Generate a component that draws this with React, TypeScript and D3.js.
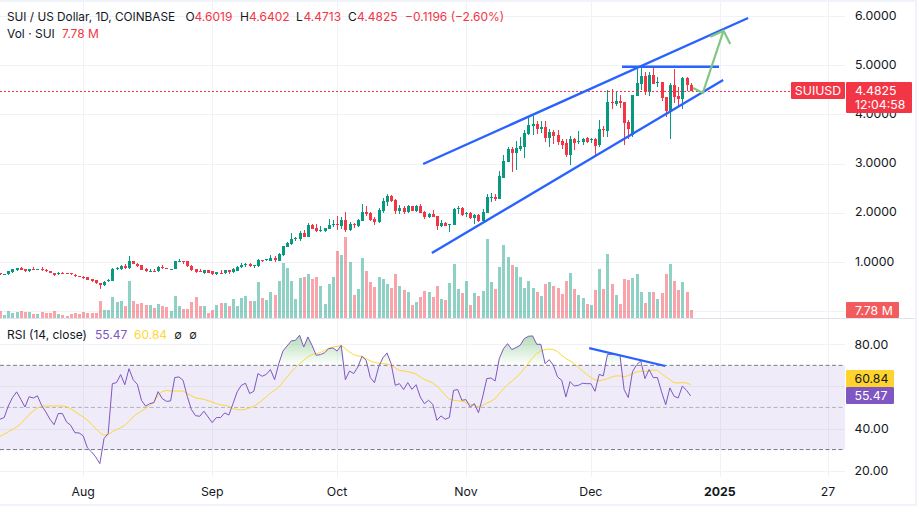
import React from 'react';
import * as d3 from 'd3';

const opens = [.769,.749,.749,.790,.830,.871,.851,.810,.864,.851,.864,.844,.817,.776,.749,.783,.776,.769,.742,.715,.701,.695,.647,.627,.579,.525,.607,.607,.857,.851,.925,.871,1.020,.966,.939,.851,.810,.817,.810,.898,.884,.851,.851,1.020,1.020,1.014,.925,.851,.817,.783,.837,.810,.749,.776,.769,.830,.790,.823,.891,.952,.966,.925,.911,1.047,1.040,1.027,1.088,1.027,
1.142,1.312,1.366,1.475,1.468,1.590,1.508,1.752,1.691,1.630,1.624,1.671,1.766,1.773,1.732,1.854,1.651,1.780,1.732,1.840,2.017,1.996,1.874,1.813,2.037,2.227,2.342,2.260,2.037,2.098,2.017,2.139,2.037,2.139,2.017,1.915,1.969,1.935,1.732,1.793,1.766,1.752,2.078,2.098,1.989,1.996,1.895,1.956,1.834,1.996,2.315,2.315,2.281,2.714,3.033,3.297,3.216,3.297,3.338,
3.601,3.764,3.805,3.703,3.744,3.520,3.642,3.581,3.459,3.419,3.175,3.500,3.446,3.446,3.520,3.480,3.500,3.378,3.703,3.662,4.252,4.211,4.272,4.252,3.845,3.581,4.374,4.618,4.780,4.455,4.801,4.645,4.658,4.354,4.062,4.597,4.381,4.313,4.740,4.6019];
const highs = [.783,.756,.823,.857,.884,.898,.864,.864,.898,.857,.898,.857,.817,.776,.796,.796,.776,.776,.756,.715,.722,.695,.661,.640,.579,.620,.661,.871,.891,.945,.952,1.129,1.020,.979,.939,.878,.864,.857,.918,.945,.884,.864,1.027,1.068,1.020,1.027,.939,.864,.857,.844,.837,.817,.803,.844,.844,.844,.878,.925,.973,.986,.979,.939,1.061,1.047,1.068,1.142,1.129,1.183,
1.332,1.407,1.590,1.508,1.630,1.644,1.786,1.773,1.773,1.732,1.691,1.868,1.854,1.935,1.908,2.017,1.813,1.793,1.874,2.179,2.139,2.017,1.915,2.098,2.294,2.382,2.362,2.274,2.159,2.139,2.152,2.139,2.159,2.179,2.037,1.996,2.057,1.935,1.854,1.813,1.780,2.098,2.139,2.118,2.010,2.017,1.976,1.976,2.071,2.376,2.396,2.382,2.857,3.175,3.338,3.338,3.460,3.534,3.683,
3.927,3.967,3.872,3.866,3.866,3.703,3.683,3.683,3.500,3.500,3.561,3.520,3.662,3.520,3.540,3.520,3.520,3.886,3.764,4.496,4.516,4.475,4.394,4.252,3.886,4.394,4.923,4.943,4.862,4.862,4.984,4.753,4.658,4.354,4.631,4.923,4.563,4.753,4.760,4.6402];
const lows = [.735,.742,.735,.783,.823,.830,.790,.803,.844,.837,.817,.803,.769,.722,.742,.762,.749,.735,.701,.708,.661,.627,.600,.559,.457,.518,.600,.607,.830,.844,.864,.864,.952,.898,.830,.803,.803,.803,.803,.857,.851,.851,.851,.993,.966,.905,.823,.769,.796,.762,.783,.742,.735,.756,.756,.756,.783,.817,.884,.905,.898,.871,.898,.993,1.014,1.020,1.007,1.020,
1.129,1.305,1.353,1.434,1.427,1.508,1.502,1.664,1.610,1.610,1.610,1.664,1.705,1.657,1.664,1.610,1.637,1.698,1.718,1.834,1.935,1.840,1.752,1.800,2.003,2.139,2.227,1.976,1.976,1.976,2.003,2.037,2.023,1.989,1.874,1.888,1.915,1.651,1.705,1.732,1.617,1.746,1.976,1.935,1.908,1.874,1.773,1.813,1.813,1.989,2.227,2.240,2.274,2.701,3.033,2.830,2.870,3.256,3.114,
3.581,3.581,3.601,3.615,3.446,3.344,3.398,3.378,3.297,3.127,2.971,3.276,3.398,3.378,3.419,3.412,3.175,3.344,3.540,3.547,4.103,4.171,4.130,3.378,3.493,3.547,4.374,4.496,4.394,4.374,4.618,4.563,4.272,3.954,3.500,4.225,4.171,4.110,4.475,4.4713];
const closes = [.749,.756,.810,.851,.871,.837,.810,.864,.851,.857,.844,.830,.769,.742,.783,.769,.749,.749,.708,.708,.681,.627,.607,.566,.525,.600,.627,.864,.871,.925,.871,1.020,.952,.925,.830,.810,.823,.810,.905,.871,.851,.864,1.027,1.027,1.007,.911,.830,.803,.803,.844,.783,.749,.790,.762,.830,.796,.857,.905,.945,.966,.911,.939,1.047,1.040,1.054,1.081,1.047,1.169,
1.325,1.393,1.468,1.495,1.597,1.515,1.752,1.671,1.624,1.651,1.691,1.752,1.773,1.759,1.854,1.651,1.773,1.766,1.854,2.017,1.976,1.854,1.813,2.057,2.240,2.342,2.240,2.037,2.098,2.017,2.139,2.044,2.139,1.996,1.915,1.976,1.922,1.739,1.793,1.739,1.780,2.078,2.091,1.949,1.996,1.895,1.956,1.834,2.017,2.321,2.328,2.274,2.748,3.053,3.297,3.216,3.317,3.358,3.622,
3.784,3.805,3.703,3.744,3.527,3.642,3.561,3.439,3.371,3.175,3.500,3.419,3.459,3.500,3.439,3.500,3.358,3.703,3.696,4.252,4.238,4.272,4.232,3.825,3.703,4.394,4.638,4.780,4.455,4.801,4.618,4.658,4.333,4.062,4.597,4.354,4.313,4.740,4.597,4.4825];
const volumes = [6.7,2.7,6.7,4.7,5.7,6.7,5.7,5.7,3.7,3.7,5.7,4.7,4.7,6.7,3.7,2.7,1.7,3.7,4.7,3.7,5.7,4.7,4.7,4.7,16.7,7.7,7.7,20.7,15.7,16.7,11.7,35.7,16.7,13.7,14.7,12.7,12.7,9.7,13.7,11.7,10.7,6.7,21.7,11.7,8.7,8.7,15.7,20.7,11.7,11.7,4.7,7.7,12.7,14.7,14.7,11.7,18.7,11.7,19.7,21.7,16.7,16.7,34.7,19.7,17.7,25,22.7,35.7,
53,49,36,18,39,40,43,38,40,31,14,33,40,65,61,79,54,22,28,58,46,35,30,40,38,33,29,43,31,27,25,13,16,20,26,25,20,31,18,17,34,52,28,24,36,13,24,21,26,77,35,28,50,71,59,51,50,40,29,
36,29,25,21,33,35,31,29,23,36,44,28,22,19,14,13,27,48,28,62,33,22,14,38,37,39,43,25,15,25,25,18,24,43,52,36,27,35,25,7.78];
const rsi = [44.4,45.2,50.7,54.7,57.4,53.9,50.2,55.1,54.5,55.5,51.0,47.9,44.4,41.8,47.1,47.1,43.1,41.5,38.0,37.9,36.5,30.8,28.9,26.5,23.3,35.2,37.6,61.3,61.8,65.6,60.8,68.4,63.2,61.0,53.4,50.6,51.8,52.3,57.5,54.2,52.9,53.1,64.2,64.5,62.9,55.3,49.0,46.1,45.8,48.2,45.5,42.8,45.2,45.2,47.4,46.4,51.8,57.4,60.5,61.5,56.6,57.7,66.1,64.8,65.7,68.0,63.2,70.8,76.8,79.2,81.6,81.9,84.3,78.7,83.5,79.5,74.8,75.1,76.0,77.9,78.3,76.8,79.5,63.2,
67.3,66.1,69.2,74.3,72.4,64.2,61.8,69.2,73.5,75.9,70.8,60.5,61.3,58.5,61.8,58.6,60.8,55.0,51.8,53.4,51.5,43.9,46.0,44.4,45.2,58.1,58.5,53.4,53.7,50.2,51.8,47.5,55.0,63.7,64.0,62.6,73.2,77.9,80.3,77.5,78.4,79.5,82.7,83.8,84.0,80.0,80.0,70.8,72.7,70.0,64.5,62.9,55.0,62.3,60.2,60.5,61.5,61.3,61.3,57.7,65.7,65.0,75.2,75.2,75.2,74.8,58.5,54.7,66.9,70.3,72.1,63.7,68.0,64.2,64.2,57.4,51.3,59.3,55.3,54.5,60.2,58.1,55.47];
const rsiMa = [36.3,37.3,38.4,39.5,40.7,42.3,44.4,46.6,48.3,49.8,50.6,50.7,50.7,50.7,50.7,50.7,50.4,49.4,48.0,46.7,45.5,43.9,42.0,39.9,38.0,36.8,37.1,38.4,39.5,40.4,41.5,43.4,45.5,47.1,48.3,49.4,51.0,52.6,55.8,57.5,58.1,57.8,57.8,57.8,57.8,56.6,55.5,54.5,54.2,53.9,53.2,52.6,51.8,51.3,51.0,50.6,49.4,49.0,48.8,49.1,49.8,50.6,51.8,53.4,55.0,56.9,58.1,59.7,62.1,64.5,66.9,68.9,70.8,72.4,74.0,75.1,75.6,76.0,77.1,78.1,78.7,79.0,79.4,77.9,76.4,
75.1,74.5,74.3,73.2,72.1,71.4,71.0,70.8,70.7,69.9,68.8,67.6,67.3,67.0,66.5,65.9,64.5,63.2,62.6,61.6,60.2,58.1,55.8,53.9,53.4,53.2,52.9,52.4,51.5,50.9,50.4,51.0,52.1,52.9,54.2,56.6,58.9,60.8,62.4,64.2,66.1,68.4,71.1,73.7,75.6,76.8,77.5,77.8,77.5,76.5,74.8,73.2,72.1,70.8,69.2,67.3,65.7,64.2,63.2,62.7,63.1,63.7,64.5,65.0,65.0,64.6,65.1,66.1,66.9,67.2,66.9,67.6,67.8,67.6,66.1,64.5,63.2,61.8,61.6,61.8,61.6,60.84];

const priceTicks = [6, 5, 4, 3, 2, 1];
const rsiTicks = [80, 60, 40, 20];
const rsiLabelTicks = [80, 40, 20];
const monthDays = [20, 51, 81, 112, 142, 173, 199];
const monthLabels = ['Aug', 'Sep', 'Oct', 'Nov', 'Dec', '2025', '27'];

// drawn trend lines, as [day, price] or [day, rsi]
const upperChannel: [number, number][] = [[101.7, 2.992], [179.8, 5.959]];
const lowerChannel: [number, number][] = [[103.8, 1.183], [173.8, 4.699]];
const topLevel: [number, number][] = [[149.5, 4.97], [172.8, 4.97]];
const arrowShaft: [number, number][] = [[166.6, 4.537], [168.9, 4.435], [173.9, 5.701]];
const arrowHead: [number, number][] = [[170.7, 5.579], [173.9, 5.701], [175.5, 5.431]];
const rsiTrend: [number, number][] = [[141.6, 78.2], [159.9, 69.7]];

const RED = '#F23645';
const GREEN = '#089981';
const GRID = '#F1F2F6';
const BLUE = '#2962FF';
const DARK = '#131722';
const PURPLE = '#7E57C2';
const YELLOW = '#FDD835';
const AXIS_X = 845;
const W = 917;
const H = 506;
const FONT = 'Inter, "Noto Sans", sans-serif';

const x = d3.scaleLinear().domain([0, 199]).range([0, 828]);
const y = d3.scaleLinear().domain([1, 6]).range([262, 16]);
const yVol = d3.scaleLinear().domain([0, 100]).range([318, 215]);
const yRsi = d3.scaleLinear().domain([20, 80]).range([470.6, 344.3]);

const priceLine = d3.line<[number, number]>().x(d => x(d[0])).y(d => y(d[1]));
const rsiSegment = d3.line<[number, number]>().x(d => x(d[0])).y(d => yRsi(d[1]));
const rsiLine = d3.line<number>().x((_, i) => x(i)).y(d => yRsi(d));
const overArea = d3.area<number>().x((_, i) => x(i)).y0(yRsi(70)).y1(d => yRsi(Math.max(d, 70)));

function Label(props: { x: number; y: number; fill?: string; anchor?: string; weight?: number; size?: number; children: React.ReactNode }) {
  return (
    <text x={props.x} y={props.y} fill={props.fill ?? DARK} textAnchor={props.anchor as any} fontWeight={props.weight} fontSize={props.size ?? 12.3} dominantBaseline="central">
      {props.children}
    </text>
  );
}

export default function App() {
  const last = closes[closes.length - 1];
  return (
    <svg width={W} height={H} viewBox={`0 0 ${W} ${H}`} style={{ position: 'absolute', left: 0, top: 0, background: '#fff' }} fontFamily={FONT}>
      <defs>
        <linearGradient id="over" gradientUnits="userSpaceOnUse" x1="0" x2="0" y1={yRsi(84)} y2={yRsi(70)}>
          <stop offset="0" stopColor="#4CAF50" stopOpacity={0.42} />
          <stop offset="1" stopColor="#4CAF50" stopOpacity={0} />
        </linearGradient>
      </defs>

      {priceTicks.concat([0]).map(t => <line key={t} x1={0} x2={AXIS_X} y1={Math.round(y(t)) + 0.5} y2={Math.round(y(t)) + 0.5} stroke={GRID} />)}
      {monthDays.map(d => <line key={d} x1={Math.round(x(d)) + 0.5} x2={Math.round(x(d)) + 0.5} y1={2} y2={477} stroke={GRID} />)}

      <rect x={0} y={yRsi(70)} width={AXIS_X} height={yRsi(30) - yRsi(70)} fill={PURPLE} fillOpacity={0.12} />
      {rsiTicks.map(t => <line key={t} x1={0} x2={AXIS_X} y1={Math.round(yRsi(t)) + 0.5} y2={Math.round(yRsi(t)) + 0.5} stroke={t === 60 || t === 40 ? '#E4E1EE' : GRID} />)}
      {[70, 30].map(t => <line key={t} x1={0} x2={AXIS_X} y1={yRsi(t)} y2={yRsi(t)} stroke="#787B86" strokeDasharray="4 2.5" />)}
      <line x1={0} x2={AXIS_X} y1={yRsi(50)} y2={yRsi(50)} stroke="#787B86" strokeOpacity={0.5} strokeDasharray="4 2.5" />

      <g shapeRendering="crispEdges">
        {volumes.map((v, i) => (
          <rect key={i} x={Math.round(x(i)) - 1} y={yVol(v)} width={3} height={yVol(0) - yVol(v)} fill={closes[i] < opens[i] ? RED : GREEN} fillOpacity={0.45} />
        ))}
        {opens.map((o, i) => {
          const c = closes[i];
          const col = c < o ? RED : GREEN;
          const cx = Math.round(x(i));
          const top = y(Math.max(o, c));
          const bot = y(Math.min(o, c));
          return (
            <g key={i} fill={col}>
              <rect x={cx} y={y(highs[i])} width={1} height={y(lows[i]) - y(highs[i])} />
              <rect x={cx - 1} y={top} width={3} height={Math.max(1, bot - top)} />
            </g>
          );
        })}
      </g>

      <line x1={0} x2={791} y1={Math.round(y(last)) + 0.5} y2={Math.round(y(last)) + 0.5} stroke={RED} strokeDasharray="2 2" shapeRendering="crispEdges" />

      <path d={priceLine(upperChannel)!} fill="none" stroke={BLUE} strokeWidth={2.4} />
      <path d={priceLine(lowerChannel)!} fill="none" stroke={BLUE} strokeWidth={2.4} />
      <path d={priceLine(topLevel)!} fill="none" stroke={BLUE} strokeWidth={2.4} />
      <path d={priceLine(arrowShaft)!} fill="none" stroke="#81C784" strokeWidth={2.2} />
      <path d={priceLine(arrowHead)!} fill="none" stroke="#81C784" strokeWidth={2.2} />

      <path d={overArea(rsi)!} fill="url(#over)" />
      <path d={rsiLine(rsiMa)!} fill="none" stroke={YELLOW} strokeWidth={1} />
      <path d={rsiLine(rsi)!} fill="none" stroke={PURPLE} strokeWidth={1} />
      <path d={rsiSegment(rsiTrend)!} fill="none" stroke={BLUE} strokeWidth={2.2} />

      <line x1={0} x2={915} y1={318.5} y2={318.5} stroke="#E0E3EB" />
      <rect x={0} y={0} width={W} height={2} fill="#F0F3FA" />
      <rect x={0} y={504} width={W} height={2} fill="#F0F3FA" />
      <rect x={915} y={0} width={2} height={H} fill="#F0F3FA" />

      {priceTicks.map(t => <Label key={t} x={855} y={y(t) - 1}>{t.toFixed(4)}</Label>)}
      {rsiLabelTicks.map(t => <Label key={t} x={854.5} y={yRsi(t)}>{t.toFixed(2)}</Label>)}
      {monthDays.map((d, i) => (
        <Label key={d} x={x(d)} y={491} anchor="middle" weight={monthLabels[i] === '2025' ? 700 : undefined}>{monthLabels[i]}</Label>
      ))}

      <rect x={791} y={82} width={54} height={17} rx={1} fill={RED} />
      <Label x={818} y={90.5} fill="#fff" anchor="middle">SUIUSD</Label>
      <rect x={846} y={82} width={66} height={31} rx={1} fill={RED} />
      <Label x={855} y={90.5} fill="#fff">{last.toFixed(4)}</Label>
      <Label x={855} y={104.5} fill="#fff">12:04:58</Label>

      <rect x={846} y={302} width={53} height={16} rx={1} fill="#F25C5C" />
      <Label x={855} y={310} fill="#fff">7.78 M</Label>
      <rect x={846} y={370} width={48} height={17} rx={1} fill="#FFD32E" />
      <Label x={854.5} y={378.5}>{rsiMa[rsiMa.length - 1].toFixed(2)}</Label>
      <rect x={846} y={387} width={48} height={17} rx={1} fill={PURPLE} />
      <Label x={854.5} y={395.5} fill="#fff">{rsi[rsi.length - 1].toFixed(2)}</Label>

      <g fontSize={12}>
        <Label x={7} y={16.5} size={11.8}>SUI / US Dollar, 1D, COINBASE</Label>
        <Label x={185.5} y={16.5} size={12}>O</Label>
        <Label x={194.5} y={16.5} size={12} fill={RED}>4.6019</Label>
        <Label x={240} y={16.5} size={12}>H</Label>
        <Label x={249} y={16.5} size={12} fill={RED}>4.6402</Label>
        <Label x={296} y={16.5} size={12}>L</Label>
        <Label x={303.5} y={16.5} size={12} fill={RED}>4.4713</Label>
        <Label x={348} y={16.5} size={12}>C</Label>
        <Label x={357} y={16.5} size={12} fill={RED}>4.4825</Label>
        <Label x={405} y={16.5} size={12} fill={RED}>−0.1196 (−2.60%)</Label>
        <Label x={7} y={33} size={12}>Vol · SUI</Label>
        <Label x={62} y={33} size={12} fill={RED}>7.78 M</Label>
        <Label x={7} y={334.5} size={12}>RSI (14, close)</Label>
        <Label x={95} y={334.5} size={12} fill={PURPLE}>55.47</Label>
        <Label x={134} y={334.5} size={12} fill={YELLOW}>60.84</Label>
        <Label x={178} y={334.5} anchor="middle" size={11}>∅</Label>
        <Label x={193} y={334.5} anchor="middle" size={11}>∅</Label>
      </g>
    </svg>
  );
}
